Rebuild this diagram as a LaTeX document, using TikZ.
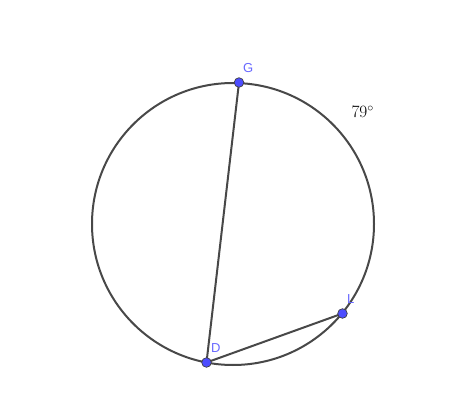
\documentclass[tikz,border=0pt]{standalone}
\usepackage{fontspec}
\newfontfamily\labelfont{Liberation Sans}
\definecolor{ptblue}{RGB}{77,77,255}
\definecolor{linegray}{RGB}{72,72,72}
\tikzset{
  chord/.style={linegray, line width=2pt},
  pt/.style={fill=ptblue, draw=black!75, line width=0.7pt},
  ptlabel/.style={text=ptblue!85!white, font=\labelfont\fontsize{13}{15}\selectfont, inner sep=0pt}
}

\begin{document}
\begin{tikzpicture}[x=1pt,y=-1pt]
        \useasboundingbox (0,0) rectangle (450,420);
        \coordinate (O) at (233,224);
        \coordinate (G) at (239,82.5);
        \coordinate (D) at (206.5,362.5);
        \coordinate (L) at (342.5,313.5);

        \draw [chord] (O) circle (141pt);
        \draw [chord] (G) -- (D);
        \draw [chord] (D) -- (L);

        \filldraw [pt] (G) circle (4.8pt);
        \filldraw [pt] (D) circle (4.8pt);
        \filldraw [pt] (L) circle (4.8pt);

        \node [ptlabel] (labG) at (248.3,68.3) {G};
        \node [ptlabel] (labD) at (215.7,348.3) {D};
        \node [ptlabel] (labL) at (350.7,299.3) {L};
        \node [font=\fontsize{17}{20}\selectfont, inner sep=0pt] (arc) at (362.7,112) {$79^\circ$};
\end{tikzpicture}
\end{document}
